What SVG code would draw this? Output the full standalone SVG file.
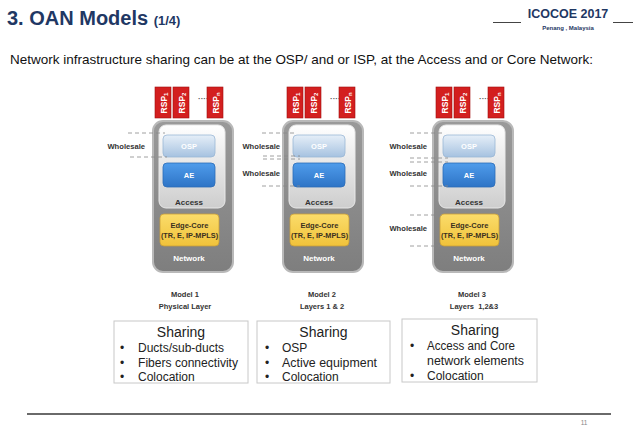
<svg xmlns="http://www.w3.org/2000/svg" width="638" height="442" viewBox="0 0 638 442">
<style>
.ttl{font-family:"Liberation Sans",Arial,sans-serif;font-weight:bold;fill:#1f3864}
.sub{font-family:"Liberation Sans",Arial,sans-serif;font-size:13px;fill:#111}
.b{font-family:"Liberation Sans",Arial,sans-serif;font-weight:bold}
.ws{font-size:7.6px;fill:#333;text-anchor:end}
.rsp{font-size:8.5px;fill:#fff;text-anchor:middle}
.wt{fill:#fff;text-anchor:middle}
.dk{fill:#333;text-anchor:middle}
.dash{stroke:#888;stroke-width:0.8;stroke-dasharray:4 3;fill:none}
.shr{font-family:"Liberation Sans",Arial,sans-serif;fill:#222}
.box{fill:#fff;stroke:#c8c8c8;stroke-width:1}
.outer{fill:url(#gOuter);stroke:#b9b9b9;stroke-width:2}
.acc{fill:url(#gAcc);stroke:#e8e8e8;stroke-width:1}
.osp{fill:url(#gOsp);stroke:#9bb8d6;stroke-width:0.8}
.ae{fill:url(#gAe);stroke:#2c6cb8;stroke-width:0.8}
.edge{fill:url(#gEdge);stroke:#c9a03a;stroke-width:0.8}
.red{fill:#d31f1f;stroke:#a01010;stroke-width:0.6}
</style>
<defs>
<linearGradient id="gOuter" x1="0" y1="0" x2="0" y2="1"><stop offset="0" stop-color="#9a9a9a"/><stop offset="1" stop-color="#7e7e7e"/></linearGradient>
<linearGradient id="gAcc" x1="0" y1="0" x2="0" y2="1"><stop offset="0" stop-color="#ffffff"/><stop offset="1" stop-color="#cdcdcd"/></linearGradient>
<linearGradient id="gOsp" x1="0" y1="0" x2="0" y2="1"><stop offset="0" stop-color="#e6eff8"/><stop offset="1" stop-color="#a6c2e0"/></linearGradient>
<linearGradient id="gAe" x1="0" y1="0" x2="0" y2="1"><stop offset="0" stop-color="#4f9ceb"/><stop offset="1" stop-color="#2e74c6"/></linearGradient>
<linearGradient id="gEdge" x1="0" y1="0" x2="0" y2="1"><stop offset="0" stop-color="#fbdc6a"/><stop offset="1" stop-color="#f0c23a"/></linearGradient>
<g id="rsps">
<rect class="red" x="3" y="87" width="16" height="31"/>
<text class="b rsp" transform="translate(14.5,103) rotate(-90)">RSP<tspan font-size="6" dy="1.5">1</tspan></text>
<rect class="red" x="21" y="87" width="16" height="31"/>
<text class="b rsp" transform="translate(32.5,103) rotate(-90)">RSP<tspan font-size="6" dy="1.5">2</tspan></text>
<text class="b" x="46" y="101" font-size="8" fill="#555">····</text>
<rect class="red" x="55" y="87" width="16" height="31"/>
<text class="b rsp" transform="translate(66.5,103) rotate(-90)">RSP<tspan font-size="6" dy="1.5">n</tspan></text>
</g>
<g id="stack">
<rect class="outer" x="0" y="121" width="80" height="151" rx="10"/>
<rect class="acc" x="6" y="125" width="66" height="83" rx="7"/>
<rect class="osp" x="10" y="135" width="52" height="22" rx="4"/>
<text class="b wt" x="36" y="149" font-size="7.5">OSP</text>
<rect class="ae" x="10" y="163" width="52" height="24" rx="4"/>
<text class="b wt" x="36" y="178" font-size="7.5">AE</text>
<text class="b dk" x="36" y="205" font-size="8">Access</text>
<rect class="edge" x="7" y="214" width="59" height="32" rx="4"/>
<text class="b" x="36.5" y="228" font-size="7.5" fill="#3a3020" text-anchor="middle">Edge-Core</text>
<text class="b" x="36.5" y="238" font-size="7.3" fill="#3a3020" text-anchor="middle">(TR, E, IP-MPLS)</text>
<text class="b wt" x="36" y="261" font-size="8">Network</text>
</g>
</defs>

<g id="header">
<text class="ttl" x="7" y="25" font-size="20">3. OAN Models <tspan font-size="13">(1/4)</tspan></text>
<line x1="493" y1="22.5" x2="521" y2="22.5" stroke="#444" stroke-width="1"/>
<text class="ttl" x="568" y="18" font-size="12.5" text-anchor="middle">ICOCOE 2017</text>
<line x1="613" y1="22.5" x2="633" y2="22.5" stroke="#444" stroke-width="1"/>
<text class="ttl" x="568" y="30" font-size="6" text-anchor="middle">Penang , Malaysia</text>
<text class="sub" x="10" y="64" textLength="583" lengthAdjust="spacingAndGlyphs">Network infrastructure sharing can be at the OSP/ and or ISP, at the Access and or Core Network:</text>
</g>

<g id="model1">
<use href="#rsps" transform="translate(152,0)"/>
<use href="#stack" transform="translate(153,0)"/>
<text class="b ws" x="145" y="149">Wholesale</text>
<text class="b dk" x="185" y="297" font-size="7.5">Model 1</text>
<text class="b dk" x="185" y="309" font-size="7.5">Physical Layer</text>
</g>

<g id="model2">
<use href="#rsps" transform="translate(284,0)"/>
<use href="#stack" transform="translate(283,0)"/>
<text class="b ws" x="280" y="149">Wholesale</text>
<text class="b ws" x="280" y="176">Wholesale</text>
<text class="b dk" x="322" y="297" font-size="7.5">Model 2</text>
<text class="b dk" x="322" y="309" font-size="7.5">Layers 1 &amp; 2</text>
</g>

<g id="model3">
<use href="#rsps" transform="translate(433,0)"/>
<use href="#stack" transform="translate(433,0)"/>
<text class="b ws" x="427" y="149">Wholesale</text>
<text class="b ws" x="427" y="176">Wholesale</text>
<text class="b ws" x="427" y="231">Wholesale</text>
<text class="b dk" x="472" y="297" font-size="7.5">Model 3</text>
<text class="b dk" x="474" y="309" font-size="7.5" xml:space="preserve">Layers  1,2&amp;3</text>
</g>

<g id="connectors">
<line class="dash" x1="128" y1="133" x2="165" y2="133"/>
<line class="dash" x1="130" y1="157" x2="167" y2="157"/>
<line class="dash" x1="262" y1="133" x2="297" y2="133"/>
<line class="dash" x1="263" y1="156" x2="300" y2="156"/>
<line class="dash" x1="263" y1="159" x2="300" y2="159"/>
<line class="dash" x1="262" y1="186" x2="300" y2="186"/>
<line class="dash" x1="410" y1="133" x2="445" y2="133"/>
<line class="dash" x1="410" y1="158" x2="448" y2="158"/>
<line class="dash" x1="410" y1="162" x2="448" y2="162"/>
<line class="dash" x1="410" y1="186" x2="448" y2="186"/>
<line class="dash" x1="410" y1="215" x2="445" y2="215"/>
<line class="dash" x1="410" y1="246" x2="445" y2="246"/>
</g>

<g id="sharing1">
<rect class="box" x="114" y="321" width="134" height="62"/>
<text class="shr" x="181" y="337" font-size="14" text-anchor="middle">Sharing</text>
<text class="shr" x="120" y="352" font-size="12">•</text>
<text class="shr" x="138" y="352" font-size="12">Ducts/sub-ducts</text>
<text class="shr" x="120" y="367" font-size="12">•</text>
<text class="shr" x="138" y="367" font-size="12" textLength="100" lengthAdjust="spacingAndGlyphs">Fibers connectivity</text>
<text class="shr" x="120" y="381" font-size="12">•</text>
<text class="shr" x="138" y="381" font-size="12">Colocation</text>
</g>

<g id="sharing2">
<rect class="box" x="257" y="321" width="133" height="62"/>
<text class="shr" x="323.5" y="337" font-size="14" text-anchor="middle">Sharing</text>
<text class="shr" x="265" y="352" font-size="12">•</text>
<text class="shr" x="282" y="352" font-size="12">OSP</text>
<text class="shr" x="265" y="367" font-size="12">•</text>
<text class="shr" x="282" y="367" font-size="12" textLength="95" lengthAdjust="spacingAndGlyphs">Active equipment</text>
<text class="shr" x="265" y="381" font-size="12">•</text>
<text class="shr" x="282" y="381" font-size="12">Colocation</text>
</g>

<g id="sharing3">
<rect class="box" x="402" y="319" width="135" height="63"/>
<text class="shr" x="475" y="335" font-size="14" text-anchor="middle">Sharing</text>
<text class="shr" x="410" y="350" font-size="12">•</text>
<text class="shr" x="427" y="350" font-size="12" textLength="88" lengthAdjust="spacingAndGlyphs">Access and Core</text>
<text class="shr" x="427" y="365" font-size="12" textLength="97" lengthAdjust="spacingAndGlyphs">network elements</text>
<text class="shr" x="410" y="380" font-size="12">•</text>
<text class="shr" x="427" y="380" font-size="12">Colocation</text>
</g>

<g id="footer">
<line x1="27" y1="414" x2="611" y2="414" stroke="#6a6a6a" stroke-width="2"/>
<text x="584" y="425" font-family="Liberation Sans, Arial, sans-serif" font-size="6.5" fill="#888" text-anchor="middle">11</text>
</g>
</svg>
